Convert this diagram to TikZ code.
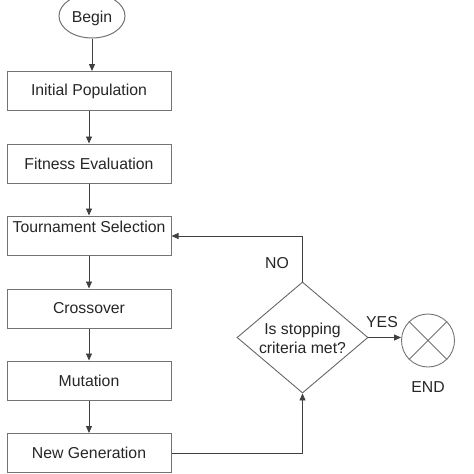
\documentclass[tikz,border=0pt]{standalone}
\usepackage{fontspec}
\setmainfont{Liberation Sans}
\usetikzlibrary{shapes.geometric,arrows.meta}
\begin{document}
\begin{tikzpicture}[x=1pt,y=-1pt,
  font=\fontsize{15.8}{18}\selectfont,
  box/.style={draw=gray!90!black,line width=1pt,minimum width=164pt,minimum height=39pt,inner sep=0pt,text=black!85},
  conn/.style={draw=black!75,line width=0.9pt,-{Triangle[length=7pt,width=6pt]}},
  lbl/.style={text=black!85}]
\useasboundingbox (0,0) rectangle (474,474);
\node[draw=gray!90!black,line width=1pt,ellipse,minimum width=66pt,minimum height=44pt,inner sep=0pt] (begin) at (92,16) {};
\node[lbl] (begintext) at (92,18) {Begin};
\node[box] (init) at (89,91) {Initial Population};
\node[box] (fit) at (89,163.5) {Fitness Evaluation};
\node[box,text height=11pt,text depth=17pt] (tour) at (89,235.5) {Tournament Selection};
\node[box] (cross) at (89,308.5) {Crossover};
\node[box] (mut) at (89,380.5) {Mutation};
\node[box] (newgen) at (89,453) {New Generation};
\node[draw=gray!80!black,line width=0.9pt,diamond,minimum width=131pt,minimum height=111pt,inner sep=0pt] (dec) at (302.5,337.5) {};
\node[lbl,align=center,font=\fontsize{15.8}{19.5}\selectfont] (dectext) at (302.5,338.5) {Is stopping\\criteria met?};
\node[draw=gray!90!black,line width=0.9pt,circle,minimum size=53pt,inner sep=0pt] (endc) at (428,340.5) {};
\draw[gray!90!black,line width=0.9pt] (endc.45) -- (endc.225) (endc.135) -- (endc.315);
\node[lbl] (endl) at (428,387) {END};
\node[lbl] (nol) at (277,263) {NO};
\node[lbl] (yesl) at (382,322) {YES};
\coordinate (c1) at (302.5,236);
\coordinate (c2) at (302.5,453);
\draw[conn] (begin.south) -- (init.north -| begin.south);
\draw[conn] (init) -- (fit);
\draw[conn] (fit) -- (tour);
\draw[conn] (tour) -- (cross);
\draw[conn] (cross) -- (mut);
\draw[conn] (mut) -- (newgen);
\draw[conn] (dec.north) -- (c1) -- (tour.east |- c1);
\draw[conn] (newgen.east) -- (c2) -- (dec.south);
\draw[conn] (dec.east) -- (endc.west |- dec.east);
\end{tikzpicture}
\end{document}
